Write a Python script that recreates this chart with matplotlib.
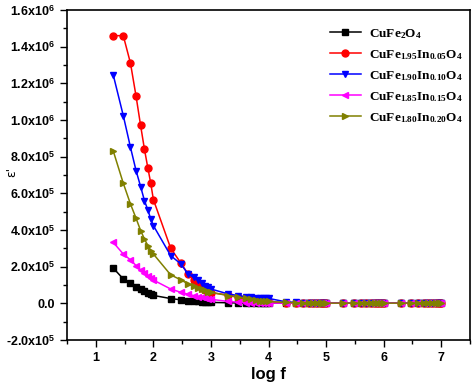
import numpy as np
import matplotlib
matplotlib.use("Agg")
import matplotlib.pyplot as plt
from matplotlib.ticker import MultipleLocator

## fuentes: sans negrita para ejes, serif negrita para la leyenda
plt.rcParams['mathtext.fontset'] = 'custom'
plt.rcParams['mathtext.rm'] = 'Liberation Serif:bold'
plt.rcParams['mathtext.sf'] = 'Liberation Sans:bold'
plt.rcParams['mathtext.it'] = 'Liberation Serif:bold'

## datos (frecuencia en Hz, epsilon' en unidades de 1e5)
freq = [20, 30, 40, 50, 60, 70, 80, 90,
        100, 200, 300, 400, 500, 600, 700, 800, 900,
        1e3, 2e3, 3e3, 4e3, 5e3, 6e3, 7e3, 8e3, 9e3,
        1e4, 2e4, 3e4, 4e4, 5e4, 6e4, 7e4, 8e4, 9e4,
        1e5, 2e5, 3e5, 4e5, 5e5, 6e5, 7e5, 8e5, 9e5,
        1e6, 2e6, 3e6, 4e6, 5e6, 6e6, 7e6, 8e6, 9e6,
        1e7]

eps_x000 = [1.93, 1.33, 1.09, 0.91, 0.78, 0.66, 0.58, 0.51,
            0.43, 0.26, 0.19, 0.15, 0.12, 0.10, 0.08, 0.07, 0.06,
            0.05, 0.03, 0.02, 0.015, 0.012, 0.01, 0.01, 0.01, 0.01,
            0.01, 0.01, 0.01, 0.01, 0.01, 0.01, 0.01, 0.01, 0.01,
            0.01, 0.01, 0.01, 0.01, 0.01, 0.01, 0.01, 0.01, 0.01,
            0.01, 0.01, 0.01, 0.01, 0.01, 0.01, 0.01, 0.01, 0.01,
            0.01]
eps_x005 = [14.6, 14.6, 13.1, 11.3, 9.7, 8.4, 7.4, 6.55,
            5.66, 3.0, 2.2, 1.6, 1.25, 1.02, 0.86, 0.74, 0.65,
            0.58, 0.45, 0.32, 0.25, 0.2, 0.16, 0.13, 0.11, 0.1,
            0.08, 0.04, 0.03, 0.02, 0.02, 0.015, 0.01, 0.01, 0.01,
            0.01, 0.01, 0.01, 0.01, 0.01, 0.01, 0.01, 0.01, 0.01,
            0.01, 0.01, 0.01, 0.01, 0.01, 0.01, 0.01, 0.01, 0.01,
            0.01]
eps_x010 = [12.48, 10.24, 8.51, 7.24, 6.37, 5.6, 5.1, 4.6,
            4.24, 2.6, 2.15, 1.6, 1.42, 1.27, 1.09, 0.97, 0.87,
            0.78, 0.51, 0.42, 0.36, 0.33, 0.31, 0.3, 0.29, 0.28,
            0.27, 0.08, 0.05, 0.04, 0.03, 0.03, 0.02, 0.02, 0.02,
            0.01, 0.01, 0.01, 0.01, 0.01, 0.01, 0.01, 0.01, 0.01,
            0.01, 0.01, 0.01, 0.01, 0.01, 0.01, 0.01, 0.01, 0.01,
            0.01]
eps_x015 = [3.33, 2.69, 2.37, 2.06, 1.82, 1.66, 1.51, 1.38,
            1.27, 0.78, 0.6, 0.5, 0.42, 0.36, 0.32, 0.28, 0.25,
            0.22, 0.1, 0.06, 0.04, 0.03, 0.03, 0.02, 0.02, 0.02,
            0.01, 0.01, 0.01, 0.01, 0.01, 0.01, 0.01, 0.01, 0.01,
            0.01, 0.01, 0.01, 0.01, 0.01, 0.01, 0.01, 0.01, 0.01,
            0.01, 0.01, 0.01, 0.01, 0.01, 0.01, 0.01, 0.01, 0.01,
            0.01]
eps_x020 = [8.33, 6.55, 5.42, 4.64, 3.97, 3.51, 3.15, 2.88,
            2.69, 1.55, 1.28, 1.06, 0.95, 0.85, 0.77, 0.7, 0.64,
            0.6, 0.42, 0.33, 0.27, 0.22, 0.18, 0.15, 0.13, 0.12,
            0.1, 0.05, 0.03, 0.02, 0.02, 0.01, 0.01, 0.01, 0.01,
            0.01, 0.01, 0.01, 0.01, 0.01, 0.01, 0.01, 0.01, 0.01,
            0.01, 0.01, 0.01, 0.01, 0.01, 0.01, 0.01, 0.01, 0.01,
            0.01]

labels = [r'CuFe$_{\mathrm{2}}$O$_{\mathrm{4}}$',
          r'CuFe$_{\mathrm{1.95}}$In$_{\mathrm{0.05}}$O$_{\mathrm{4}}$',
          r'CuFe$_{\mathrm{1.90}}$In$_{\mathrm{0.10}}$O$_{\mathrm{4}}$',
          r'CuFe$_{\mathrm{1.85}}$In$_{\mathrm{0.15}}$O$_{\mathrm{4}}$',
          r'CuFe$_{\mathrm{1.80}}$In$_{\mathrm{0.20}}$O$_{\mathrm{4}}$']
series = [eps_x000, eps_x005, eps_x010, eps_x015, eps_x020]
colores = ['black', 'red', 'blue', '#FF00FF', '#808000']
marcadores = ['s', 'o', 'v', '<', '>']

ytick_vals = [-2e5, 0, 2e5, 4e5, 6e5, 8e5, 1e6, 1.2e6, 1.4e6, 1.6e6]
ytick_txt = [r'-2.0x10$^{\mathsf{5}}$', '0.0', r'2.0x10$^{\mathsf{5}}$', r'4.0x10$^{\mathsf{5}}$',
             r'6.0x10$^{\mathsf{5}}$', r'8.0x10$^{\mathsf{5}}$', r'1.0x10$^{\mathsf{6}}$',
             r'1.2x10$^{\mathsf{6}}$', r'1.4x10$^{\mathsf{6}}$', r'1.6x10$^{\mathsf{6}}$']

## grafica
logf = np.log10(freq)
fig = plt.figure(figsize=(4.74, 3.83), dpi=100)
ax = fig.add_axes([0.1414, 0.1123, 0.8502, 0.8616])

for s, c, m, lab in zip(series, colores, marcadores, labels):
    ax.plot(logf, np.array(s) * 1e5, color=c, marker=m, markersize=5, lw=1.1, label=lab)

ax.set_xlim(0.5, 7.5)
ax.set_ylim(-2e5, 1.6e6)
ax.set_xticks([1, 2, 3, 4, 5, 6, 7])
ax.xaxis.set_minor_locator(MultipleLocator(0.5))
ax.set_yticks(ytick_vals)
ax.set_yticklabels(ytick_txt)
ax.yaxis.set_minor_locator(MultipleLocator(1e5))
ax.tick_params(which='both', direction='out', top=False, right=False, width=1)
ax.tick_params(which='major', length=5)
ax.tick_params(which='minor', length=3)
for lab in ax.get_xticklabels() + ax.get_yticklabels():
    lab.set_fontfamily('Liberation Sans')
    lab.set_fontweight('bold')
    lab.set_fontsize(9)
for sp in ax.spines.values():
    sp.set_linewidth(1.2)

ax.set_xlabel('log f', fontsize=12, fontweight='bold', family='Liberation Sans', labelpad=2)
fig.text(0.025, 0.55, "ε'", rotation=90, fontsize=9, ha='center', va='center', family='DejaVu Sans')

leg = ax.legend(loc='upper right', bbox_to_anchor=(0.995, 0.965), frameon=False,
                prop={'family': 'Liberation Serif', 'weight': 'bold', 'size': 9.5},
                handlelength=2.4, labelspacing=0.55, borderaxespad=0, handletextpad=0.6)

fig.savefig('out.png', dpi=100)
